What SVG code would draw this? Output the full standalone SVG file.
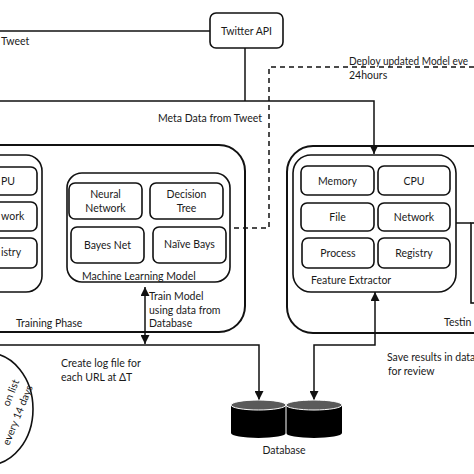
<svg xmlns="http://www.w3.org/2000/svg" width="474" height="474" viewBox="0 0 474 474">
<style>
text{font-family:Lato,"Open Sans","Liberation Sans",sans-serif;font-size:10.5px;fill:#1a1a1a}
.m{text-anchor:middle}
.box{fill:none;stroke:#111;stroke-width:1.6}
.outer{fill:none;stroke:#111;stroke-width:2}
.ln{fill:none;stroke:#111;stroke-width:1.5}
.dash{fill:none;stroke:#111;stroke-width:1.5;stroke-dasharray:5,4}
</style>
<defs>
<marker id="arr" viewBox="0 0 10 10" refX="10" refY="5" markerWidth="6" markerHeight="6" orient="auto-start-reverse">
<path d="M0,0 L10,5 L0,10 z" fill="#111"/>
</marker>
</defs>
<rect width="474" height="474" fill="#fff"/>

<g id="connectors">
<path class="ln" d="M210,31 H-5"/>
<path class="ln" d="M245,48 V101"/>
<path class="ln" d="M-5,101 H374 V154" marker-end="url(#arr)"/>
<path class="dash" d="M474,67 H269 V228 H231"/>
<path class="ln" d="M145,287 V344" marker-start="url(#arr)" marker-end="url(#arr)"/>
<path class="ln" d="M-5,345 H259 V400" marker-end="url(#arr)"/>
<path class="ln" d="M375,292 V345 H314 V400" marker-start="url(#arr)" marker-end="url(#arr)"/>
<path class="ln" d="M456,223 H471"/>
</g>

<g id="twitter-api">
<rect class="box" x="210" y="13" width="73" height="35" rx="6"/>
<text class="m" x="246.5" y="35">Twitter API</text>
</g>

<g id="labels">
<text x="1" y="45">Tweet</text>
<text x="158" y="122">Meta Data from Tweet</text>
<text x="349" y="65" textLength="119" lengthAdjust="spacingAndGlyphs">Deploy updated Model eve</text>
<text x="349" y="79">24hours</text>
<text x="149" y="300">Train Model</text>
<text x="149" y="314">using data from</text>
<text x="149" y="327">Database</text>
<text x="61" y="367">Create log file for</text>
<text x="61" y="381">each URL at ΔT</text>
<text x="387" y="361" font-size="9.3">Save results in data</text>
<text x="388" y="375">for review</text>
</g>

<g id="training-phase">
<rect class="outer" x="-60" y="145" width="305" height="187" rx="26"/>
<text x="16" y="327">Training Phase</text>
</g>

<g id="training-feature-extractor">
<rect class="box" x="-80" y="155" width="122" height="137" rx="16"/>
<rect class="box" x="-40" y="167" width="77" height="28" rx="6"/>
<text x="1" y="185">PU</text>
<rect class="box" x="-40" y="202" width="77" height="29" rx="6"/>
<text x="1" y="220">work</text>
<rect class="box" x="-40" y="238" width="77" height="30" rx="6"/>
<text x="1" y="256">istry</text>
</g>

<g id="ml-model">
<rect class="box" x="67" y="173" width="163" height="109" rx="15"/>
<text x="82" y="280">Machine Learning Model</text>
<rect class="box" x="69" y="183" width="73" height="36" rx="6"/>
<text class="m" x="105.5" y="198">Neural</text>
<text class="m" x="105.5" y="212">Network</text>
<rect class="box" x="150" y="183" width="73" height="36" rx="6"/>
<text class="m" x="186.5" y="198">Decision</text>
<text class="m" x="186.5" y="212">Tree</text>
<rect class="box" x="71" y="227" width="73" height="36" rx="6"/>
<text class="m" x="107.5" y="249">Bayes Net</text>
<rect class="box" x="153" y="227" width="73" height="36" rx="6"/>
<text class="m" x="189.5" y="248">Naïve Bays</text>
</g>

<g id="testing-phase">
<rect class="outer" x="287" y="146" width="260" height="187" rx="26"/>
<text x="444" y="326">Testin</text>
</g>

<g id="testing-feature-extractor">
<rect class="box" x="293" y="155" width="163" height="137" rx="18"/>
<text x="311" y="284">Feature Extractor</text>
<rect class="box" x="301" y="166" width="73" height="29" rx="6"/>
<text class="m" x="337.5" y="185">Memory</text>
<rect class="box" x="378" y="166" width="72" height="29" rx="6"/>
<text class="m" x="414" y="185">CPU</text>
<rect class="box" x="301" y="203" width="73" height="28" rx="6"/>
<text class="m" x="337.5" y="221">File</text>
<rect class="box" x="378" y="203" width="72" height="28" rx="6"/>
<text class="m" x="414" y="221">Network</text>
<rect class="box" x="302" y="238" width="72" height="30" rx="6"/>
<text class="m" x="338" y="257">Process</text>
<rect class="box" x="378" y="238" width="72" height="30" rx="6"/>
<text class="m" x="414" y="257">Registry</text>
</g>

<g id="side-box">
<rect class="box" x="471" y="223" width="30" height="80"/>
</g>

<g id="url-list">
<ellipse class="box" cx="-12" cy="409" rx="45" ry="56"/>
<text transform="translate(9,407) rotate(-68)" font-size="9.5">on list</text>
<text transform="translate(9,446) rotate(-68)" font-size="8.8">every 14 days</text>
</g>

<g id="database">
<rect x="231" y="405" width="55" height="28" fill="#000"/>
<ellipse cx="258.5" cy="433" rx="27.5" ry="5" fill="#000"/>
<ellipse cx="258.5" cy="405" rx="27.5" ry="5" fill="#5a5a5a" stroke="#fff" stroke-width="1"/>
<rect x="286" y="405" width="56" height="28" fill="#000"/>
<ellipse cx="314" cy="433" rx="28" ry="5" fill="#000"/>
<ellipse cx="314" cy="405" rx="28" ry="5" fill="#5a5a5a" stroke="#fff" stroke-width="1"/>
<line x1="286" y1="405" x2="286" y2="436" stroke="#fff" stroke-width="1"/>
<text class="m" x="284" y="454">Database</text>
</g>
</svg>
